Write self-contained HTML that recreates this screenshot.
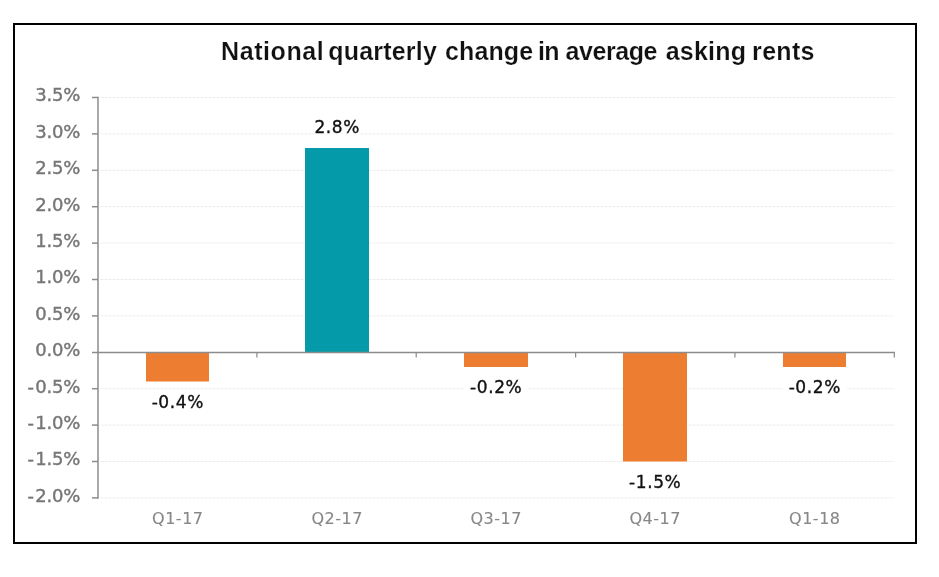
<!DOCTYPE html>
<html><head><meta charset="utf-8"><title>National quarterly change in average asking rents</title>
<style>
html,body{margin:0;padding:0;background:#fff;}
body{width:939px;height:577px;overflow:hidden;}
svg{display:block;}
text{font-family:"Liberation Sans",sans-serif;}
.t{font-size:25px;font-weight:bold;fill:#111;stroke:#fff;stroke-width:0.2;}
.yl{font-family:"DejaVu Sans","Liberation Sans",sans-serif;font-size:18px;fill:#767676;stroke:#767676;stroke-width:0.4;text-anchor:end;letter-spacing:-0.2px;}
.xl{font-family:"DejaVu Sans","Liberation Sans",sans-serif;font-size:16px;fill:#878787;stroke:#878787;stroke-width:0.12;text-anchor:middle;letter-spacing:0.5px;}
.dl{font-family:"DejaVu Sans","Liberation Sans",sans-serif;font-size:17px;fill:#111;stroke:#111;stroke-width:0.35;text-anchor:middle;letter-spacing:0.6px;}
</style></head><body>
<svg width="939" height="577" viewBox="0 0 939 577">
<rect x="0" y="0" width="939" height="577" fill="#fff"/>
<rect x="14" y="24" width="902" height="519" fill="#fff" stroke="#000" stroke-width="2"/>
<text class="t" y="60"><tspan x="221.1" style="letter-spacing:0.57px">National</tspan> <tspan x="328.3" style="letter-spacing:0.19px">quarterly</tspan> <tspan x="445.0" style="letter-spacing:0.13px">change</tspan> <tspan x="538.05" style="letter-spacing:-0.84px">in</tspan> <tspan x="565.5" style="letter-spacing:-0.42px">average</tspan> <tspan x="665.7" style="letter-spacing:0.24px">asking</tspan> <tspan x="752.1" style="letter-spacing:0.32px">rents</tspan></text>
<line x1="100.5" x2="894.3" y1="97.5" y2="97.5" stroke="#ececec" stroke-width="1" stroke-dasharray="3 1"/>
<line x1="100.5" x2="894.3" y1="133.9" y2="133.9" stroke="#ececec" stroke-width="1" stroke-dasharray="3 1"/>
<line x1="100.5" x2="894.3" y1="170.3" y2="170.3" stroke="#ececec" stroke-width="1" stroke-dasharray="3 1"/>
<line x1="100.5" x2="894.3" y1="206.7" y2="206.7" stroke="#ececec" stroke-width="1" stroke-dasharray="3 1"/>
<line x1="100.5" x2="894.3" y1="243.1" y2="243.1" stroke="#ececec" stroke-width="1" stroke-dasharray="3 1"/>
<line x1="100.5" x2="894.3" y1="279.5" y2="279.5" stroke="#ececec" stroke-width="1" stroke-dasharray="3 1"/>
<line x1="100.5" x2="894.3" y1="315.9" y2="315.9" stroke="#ececec" stroke-width="1" stroke-dasharray="3 1"/>
<line x1="100.5" x2="894.3" y1="388.7" y2="388.7" stroke="#ececec" stroke-width="1" stroke-dasharray="3 1"/>
<line x1="100.5" x2="894.3" y1="425.1" y2="425.1" stroke="#ececec" stroke-width="1" stroke-dasharray="3 1"/>
<line x1="100.5" x2="894.3" y1="461.5" y2="461.5" stroke="#ececec" stroke-width="1" stroke-dasharray="3 1"/>
<line x1="100.5" x2="894.3" y1="497.9" y2="497.9" stroke="#ececec" stroke-width="1" stroke-dasharray="3 1"/>
<rect x="146" y="352.5" width="63" height="29.0" fill="#ed7d31"/>
<rect x="305" y="148.0" width="64" height="204.5" fill="#049aa9"/>
<rect x="464" y="352.5" width="64" height="14.5" fill="#ed7d31"/>
<rect x="623" y="352.5" width="64" height="109.0" fill="#ed7d31"/>
<rect x="783" y="352.5" width="63" height="14.5" fill="#ed7d31"/>
<line x1="98.0" x2="98.0" y1="96.75" y2="498.65" stroke="#8c8c8c" stroke-width="1.5"/>
<line x1="92.0" x2="895.0" y1="352.5" y2="352.5" stroke="#8c8c8c" stroke-width="1.5"/>
<line x1="92.0" x2="98.0" y1="97.5" y2="97.5" stroke="#8c8c8c" stroke-width="1.5"/>
<text class="yl" x="80.2" y="101.4">3.5%</text>
<line x1="92.0" x2="98.0" y1="133.9" y2="133.9" stroke="#8c8c8c" stroke-width="1.5"/>
<text class="yl" x="80.2" y="137.8">3.0%</text>
<line x1="92.0" x2="98.0" y1="170.3" y2="170.3" stroke="#8c8c8c" stroke-width="1.5"/>
<text class="yl" x="80.2" y="174.2">2.5%</text>
<line x1="92.0" x2="98.0" y1="206.7" y2="206.7" stroke="#8c8c8c" stroke-width="1.5"/>
<text class="yl" x="80.2" y="210.6">2.0%</text>
<line x1="92.0" x2="98.0" y1="243.1" y2="243.1" stroke="#8c8c8c" stroke-width="1.5"/>
<text class="yl" x="80.2" y="247.0">1.5%</text>
<line x1="92.0" x2="98.0" y1="279.5" y2="279.5" stroke="#8c8c8c" stroke-width="1.5"/>
<text class="yl" x="80.2" y="283.4">1.0%</text>
<line x1="92.0" x2="98.0" y1="315.9" y2="315.9" stroke="#8c8c8c" stroke-width="1.5"/>
<text class="yl" x="80.2" y="319.8">0.5%</text>
<text class="yl" x="80.2" y="356.2">0.0%</text>
<line x1="92.0" x2="98.0" y1="388.7" y2="388.7" stroke="#8c8c8c" stroke-width="1.5"/>
<text class="yl" x="80.2" y="392.6"><tspan style="letter-spacing:1.2px">-</tspan>0.5%</text>
<line x1="92.0" x2="98.0" y1="425.1" y2="425.1" stroke="#8c8c8c" stroke-width="1.5"/>
<text class="yl" x="80.2" y="429.0"><tspan style="letter-spacing:1.2px">-</tspan>1.0%</text>
<line x1="92.0" x2="98.0" y1="461.5" y2="461.5" stroke="#8c8c8c" stroke-width="1.5"/>
<text class="yl" x="80.2" y="465.4"><tspan style="letter-spacing:1.2px">-</tspan>1.5%</text>
<line x1="92.0" x2="98.0" y1="497.9" y2="497.9" stroke="#8c8c8c" stroke-width="1.5"/>
<text class="yl" x="80.2" y="501.8"><tspan style="letter-spacing:1.2px">-</tspan>2.0%</text>
<line x1="256.9" x2="256.9" y1="352.5" y2="357.5" stroke="#8c8c8c" stroke-width="1.25"/>
<line x1="416.2" x2="416.2" y1="352.5" y2="357.5" stroke="#8c8c8c" stroke-width="1.25"/>
<line x1="575.6" x2="575.6" y1="352.5" y2="357.5" stroke="#8c8c8c" stroke-width="1.25"/>
<line x1="734.9" x2="734.9" y1="352.5" y2="357.5" stroke="#8c8c8c" stroke-width="1.25"/>
<line x1="894.3" x2="894.3" y1="352.5" y2="357.5" stroke="#8c8c8c" stroke-width="1.25"/>
<text class="xl" x="177.8" y="523.6">Q1-17</text>
<text class="dl" x="177.8" y="407.6">-0.4%</text>
<text class="xl" x="337.2" y="523.6">Q2-17</text>
<rect x="314.5" y="119.1" width="44.7" height="17" fill="#fff"/>
<text class="dl" x="337.2" y="133.1">2.8%</text>
<text class="xl" x="496.2" y="523.6">Q3-17</text>
<rect x="463.5" y="379.1" width="65" height="17" fill="#fff"/>
<text class="dl" x="496.2" y="393.1">-0.2%</text>
<text class="xl" x="655.2" y="523.6">Q4-17</text>
<text class="dl" x="655.2" y="487.7">-1.5%</text>
<text class="xl" x="814.8" y="523.6">Q1-18</text>
<rect x="782.5" y="379.1" width="64" height="17" fill="#fff"/>
<text class="dl" x="814.8" y="393.1">-0.2%</text>
</svg>
</body></html>
